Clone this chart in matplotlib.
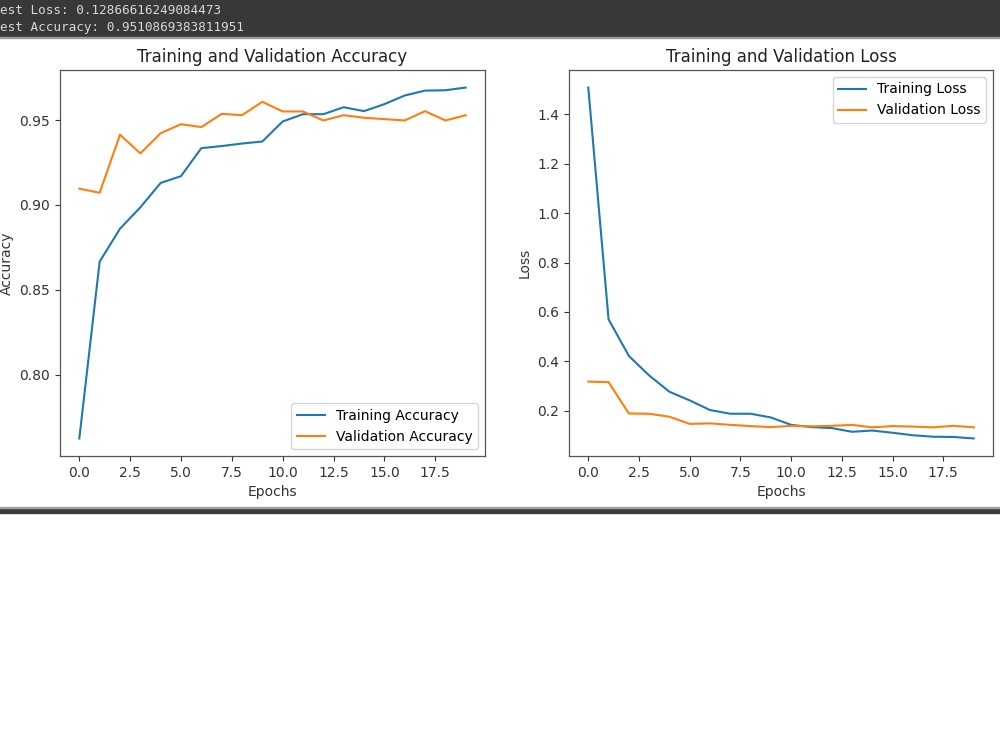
import matplotlib
matplotlib.use("Agg")
import matplotlib.pyplot as plt
from matplotlib.patches import Rectangle

# values
epochs = list(range(20))
train_acc = [0.7624, 0.8666, 0.8860, 0.8986, 0.9130, 0.9170, 0.9335, 0.9347, 0.9362, 0.9374,
             0.9492, 0.9535, 0.9535, 0.9576, 0.9553, 0.9594, 0.9645, 0.9674, 0.9676, 0.9692]
val_acc = [0.9096, 0.9072, 0.9414, 0.9304, 0.9423, 0.9476, 0.9459, 0.9537, 0.9529, 0.9608,
           0.9551, 0.9551, 0.9498, 0.9529, 0.9514, 0.9506, 0.9498, 0.9553, 0.9498, 0.9529]
train_loss = [1.508, 0.570, 0.422, 0.343, 0.277, 0.242, 0.203, 0.188, 0.188, 0.173,
              0.143, 0.134, 0.130, 0.115, 0.120, 0.111, 0.101, 0.095, 0.094, 0.088]
val_loss = [0.318, 0.316, 0.189, 0.188, 0.176, 0.147, 0.149, 0.143, 0.138, 0.134,
            0.139, 0.137, 0.139, 0.143, 0.133, 0.138, 0.136, 0.133, 0.139, 0.133]

# the screenshot cuts the first letter of each line
header_lines = ["est Loss: 0.12866616249084473", "est Accuracy: 0.9510869383811951"]

TICK_FS = 10
TITLE_FS = 12
LW = 1.5

fig = plt.figure(figsize=(10, 7.5), dpi=100)

# notebook output strip at the top and cell separator below the plots
fig.patches.append(Rectangle((0, 1 - 37 / 750), 1, 37 / 750, transform=fig.transFigure,
                             color="#383838", zorder=0))
fig.patches.append(Rectangle((0, 1 - 38 / 750), 1, 1.5 / 750, transform=fig.transFigure,
                             color="#9a9a9a", zorder=0))
fig.patches.append(Rectangle((0, 1 - 513 / 750), 1, 5 / 750, transform=fig.transFigure,
                             color="#3a3a3a", zorder=0))
fig.patches.append(Rectangle((0, 1 - 508 / 750), 1, 1.2 / 750, transform=fig.transFigure,
                             color="#a0a0a0", zorder=0))
for i, line in enumerate(header_lines):
    fig.text(0.5 / 1000, 1 - (10 + 17 * i) / 750, line, family="DejaVu Sans Mono",
             fontsize=9.1, color="#d8d8d8", va="center", ha="left")

ax1 = fig.add_axes([0.060, 1 - 456 / 750, 0.425, 386 / 750])
ax2 = fig.add_axes([0.569, 1 - 456 / 750, 0.424, 386 / 750])

ax1.plot(epochs, train_acc, label="Training Accuracy", lw=LW)
ax1.plot(epochs, val_acc, label="Validation Accuracy", lw=LW)
ax1.set_title("Training and Validation Accuracy", fontsize=TITLE_FS, color="#222222")
ax1.set_xlabel("Epochs", fontsize=TICK_FS, color="#333333")
ax1.set_ylabel("Accuracy", fontsize=TICK_FS, color="#333333")
ax1.legend(loc="lower right", fontsize=TICK_FS)

ax2.plot(epochs, train_loss, label="Training Loss", lw=LW)
ax2.plot(epochs, val_loss, label="Validation Loss", lw=LW)
ax2.set_title("Training and Validation Loss", fontsize=TITLE_FS, color="#222222")
ax2.set_xlabel("Epochs", fontsize=TICK_FS, color="#333333")
ax2.set_ylabel("Loss", fontsize=TICK_FS, color="#333333")
ax2.legend(loc="upper right", fontsize=TICK_FS)

for ax in (ax1, ax2):
    ax.tick_params(labelsize=TICK_FS, colors="#333333")
    for s in ax.spines.values():
        s.set_color("#555555")
        s.set_linewidth(0.9)

fig.savefig("out.png", dpi=100)
